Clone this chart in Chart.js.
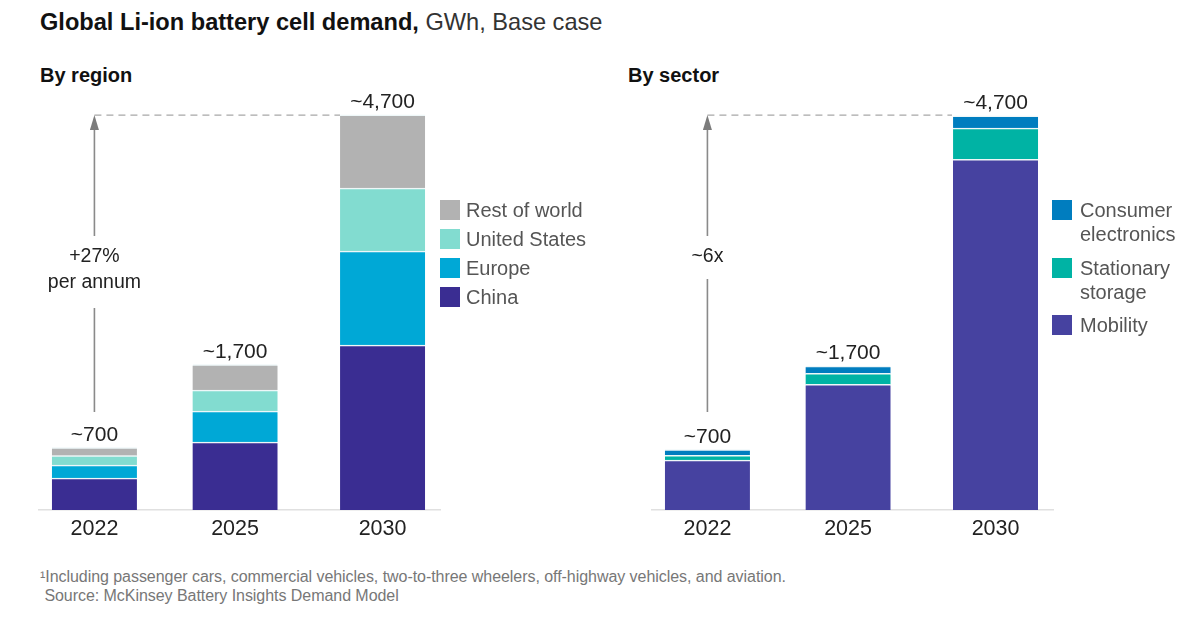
<!DOCTYPE html>
<html><head><meta charset="utf-8">
<script src="https://cdn.jsdelivr.net/npm/chart.js@4/dist/chart.umd.js"></script>
<style>
html,body{margin:0;padding:0;background:#fff;width:1200px;height:618px;overflow:hidden;font-family:"Liberation Sans",sans-serif}
.t{position:absolute;white-space:pre;line-height:1}
canvas{position:absolute}
.sw{position:absolute;width:20px;height:20px}
</style></head><body>
<div class="t" style="left:40px;top:11px;font-size:23.6px;color:#111"><b>Global Li-ion battery cell demand,</b> <span style="color:#333">GWh, Base case</span></div>
<div class="t" style="left:40px;top:65px;font-size:20px;font-weight:bold;color:#111">By region</div>
<div class="t" style="left:628px;top:65px;font-size:20px;font-weight:bold;color:#111">By sector</div>
<canvas id="c1" style="left:38px;top:80px"></canvas>
<canvas id="c2" style="left:651px;top:80px"></canvas>
<div id="lg"></div>
<div class="t" style="left:40px;top:569px;font-size:16px;letter-spacing:-0.05px;color:#777">¹Including passenger cars, commercial vehicles, two-to-three wheelers, off-highway vehicles, and aviation.</div>
<div class="t" style="left:40px;top:588px;font-size:16px;letter-spacing:-0.05px;color:#777"> Source: McKinsey Battery Insights Demand Model</div>
<script>
const years = ['2022','2025','2030'];
const totalLabels = ['~700','~1,700','~4,700'];
const china = [381,809,1963];
const europe = [155,369,1118];
const unitedStates = [111,250,750];
const restOfWorld = [95,302,872];
const mobility = [595,1494,4172];
const stationaryStorage = [56,131,374];
const consumerElectronics = [68,88,144];
const annotationTop = 4700;

class SpacedCategory extends Chart.CategoryScale {
  getPixelForValue(value){
    if (typeof value !== 'number') value = this.parse(value);
    return this.left + this.options.slots[value] * this.width;
  }
}
SpacedCategory.id = 'spaced';
SpacedCategory.defaults = Chart.CategoryScale.defaults;
Chart.register(SpacedCategory);

const FONT = '"Liberation Sans", sans-serif';
const annot = {
  id:'annot',
  afterDatasetsDraw(chart,args,o){
    const {ctx,scales:{x,y}} = chart;
    ctx.save();
    ctx.textAlign='center'; ctx.textBaseline='alphabetic';
    ctx.fillStyle='#222'; ctx.font='21px '+FONT;
    years.forEach((yr,i)=>{
      const sum = chart.data.datasets.reduce((s,d)=>s+d.data[i],0);
      ctx.fillText(totalLabels[i], x.getPixelForValue(i), y.getPixelForValue(sum)-7);
    });
    const ax = x.getPixelForValue(0), topY = y.getPixelForValue(annotationTop);
    ctx.strokeStyle='#a8a8a8'; ctx.lineWidth=1.3; ctx.setLineDash([7,5]);
    ctx.beginPath(); ctx.moveTo(ax,topY); ctx.lineTo(o.dashEnd,topY); ctx.stroke();
    ctx.setLineDash([]);
    ctx.strokeStyle='#8a8a8a'; ctx.lineWidth=1.6;
    ctx.beginPath();
    ctx.moveTo(ax,topY+12); ctx.lineTo(ax,o.gapTop);
    ctx.moveTo(ax,o.gapBottom); ctx.lineTo(ax,332);
    ctx.stroke();
    ctx.fillStyle='#7c7c7c';
    ctx.beginPath(); ctx.moveTo(ax,topY); ctx.lineTo(ax-4.5,topY+15); ctx.lineTo(ax+4.5,topY+15); ctx.closePath(); ctx.fill();
    ctx.fillStyle='#222'; ctx.font='19.5px '+FONT;
    o.lines.forEach((l,i)=>ctx.fillText(l,ax,o.lineY+i*26));
    ctx.restore();
  }
};

function makeChart(id,width,names,series,colors,slots,annotOpts){
  const el = document.getElementById(id);
  el.width = width; el.height = 470;
  return new Chart(el,{
    type:'bar',
    data:{labels:years,datasets:names.map((n,i)=>({label:n,data:series[i],backgroundColor:colors[i],
      borderColor:'#eef7f8',borderWidth:{top:1.5,left:0,right:0,bottom:0},borderSkipped:false,
      barThickness:85}))},
    options:{
      responsive:false,animation:false,
      layout:{padding:0},
      plugins:{legend:{display:false},tooltip:{enabled:false},annot:annotOpts},
      scales:{
        x:{type:'spaced',slots,stacked:true,offset:true,
          grid:{display:false},
          border:{display:true,color:'#e0e0e0',width:1.5},
          afterFit(s){s.height=40;},
          ticks:{color:'#222',font:{family:FONT,size:21.5},padding:-2,maxRotation:0}},
        y:{display:false,stacked:true,min:0,max:5117}
      }
    },
    plugins:[annot]
  });
}

const regionNames=['China','Europe','United States','Rest of world'];
const regionColors=['#3a2d92','#00a8d6','#82dcd0','#b2b2b2'];
const sectorNames=['Mobility','Stationary storage','Consumer electronics'];
const sectorColors=['#4642a0','#00b3a4','#007dbf'];

makeChart('c1',403,regionNames,[china,europe,unitedStates,restOfWorld],regionColors,[0.14,0.489,0.855],
  {dashEnd:302,gapTop:156,gapBottom:228,lines:['+27%','per annum'],lineY:182});
makeChart('c2',403,sectorNames,[mobility,stationaryStorage,consumerElectronics],sectorColors,[0.14,0.489,0.855],
  {dashEnd:301,gapTop:156,gapBottom:199,lines:['~6x'],lineY:182});

const lg=document.getElementById('lg');
function addLegend(x,tx,items){
  items.forEach(it=>{
    const s=document.createElement('div');s.className='sw';
    s.style.cssText=`left:${x}px;top:${it.y-10}px;background:${it.c}`;lg.appendChild(s);
    it.t.forEach((line,i)=>{
      const d=document.createElement('div');d.className='t';d.textContent=line;
      d.style.cssText=`left:${tx}px;top:${it.y-10+i*24}px;font-size:20px;color:#555`;lg.appendChild(d);
    });
  });
}
addLegend(440,466,[
 {y:210,c:regionColors[3],t:['Rest of world']},
 {y:239,c:regionColors[2],t:['United States']},
 {y:268,c:regionColors[1],t:['Europe']},
 {y:297,c:regionColors[0],t:['China']}]);
addLegend(1052,1080,[
 {y:210,c:sectorColors[2],t:['Consumer','electronics']},
 {y:268,c:sectorColors[1],t:['Stationary','storage']},
 {y:325,c:sectorColors[0],t:['Mobility']}]);
</script>
</body></html>
